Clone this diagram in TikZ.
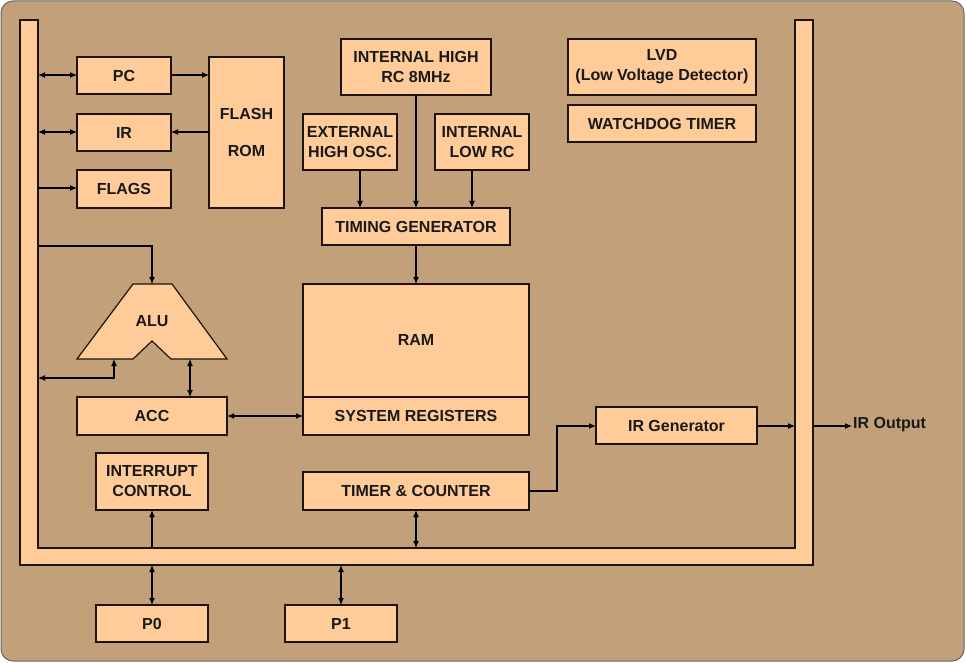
\documentclass[tikz,border=0pt]{standalone}
\usepackage{fontspec}
\setmainfont{Liberation Sans}
\usetikzlibrary{arrows.meta}
\definecolor{bg}{RGB}{194,160,122}
\definecolor{bx}{RGB}{255,204,153}
\begin{document}
\begin{tikzpicture}[x=1pt,y=-1pt,
  box/.style={draw=black!85!brown,line width=1.2pt,fill=bx},
  lbl/.style={font=\fontsize{16}{20}\selectfont\bfseries,align=center,text=black!90},
  ar/.style={line width=1.1pt,-{Latex[length=7pt,width=6pt]}},
  dar/.style={line width=1.1pt,{Latex[length=7pt,width=6pt]}-{Latex[length=7pt,width=6pt]}},
  ln/.style={line width=1.1pt}]
\useasboundingbox (0,0) rectangle (966,663);
\draw[fill=bg,draw=black!60,line width=1pt,rounded corners=12pt] (1,1) rectangle (964,661);
% bus
\draw[box] (20,20) -- (38,20) -- (38,548) -- (795,548) -- (795,20) -- (813,20) -- (813,565) -- (20,565) -- cycle;
% boxes
\newcommand\bx[6]{\draw[box] (#2,#3) rectangle (#4,#5); \node[lbl] (#1) at ({(#2+#4)/2},{(#3+#5)/2}) {#6};}
\bx{pc}{77}{57}{171}{94}{PC}
\bx{ir}{77}{114}{171}{151}{IR}
\bx{flags}{77}{170}{171}{208}{FLAGS}
\bx{flash}{209}{57}{284}{208}{FLASH\\[17pt]ROM}
\bx{ihrc}{341}{39}{491}{95}{INTERNAL HIGH\\RC 8MHz}
\bx{ext}{303}{114}{397}{170}{EXTERNAL\\HIGH OSC.}
\bx{ilrc}{435}{114}{529}{170}{INTERNAL\\LOW RC}
\bx{tg}{322}{208}{510}{245}{TIMING GENERATOR}
\draw[box] (303,284) rectangle (529,397); \node[lbl] (ram) at (416,340) {RAM};
\bx{sr}{303}{397}{529}{435}{SYSTEM REGISTERS}
\bx{lvd}{568}{39}{756}{95}{LVD\\(Low Voltage Detector)}
\bx{wd}{568}{105}{756}{142}{WATCHDOG TIMER}
\bx{acc}{77}{397}{227}{435}{ACC}
\bx{ic}{96}{453}{208}{510}{INTERRUPT\\CONTROL}
\bx{tc}{303}{472}{529}{510}{TIMER \& COUNTER}
\bx{irg}{596}{407}{757}{444}{IR Generator}
\bx{p0}{96}{605}{208}{642}{P0}
\bx{p1}{285}{605}{397}{642}{P1}
\draw[box] (133,284) -- (172,284) -- (227,359) -- (171,359) -- (152,341) -- (133,359) -- (77,359) -- cycle;
\node[lbl] (alu) at (152,321) {ALU};
\node[lbl,anchor=west,inner sep=1pt] (iro) at (852,425) {IR Output};
% connectors
\draw[dar] (38,75) -- (77,75);
\draw[ar] (171,75) -- (209,75);
\draw[ar] (209,132) -- (171,132);
\draw[dar] (38,132) -- (77,132);
\draw[ar] (38,188) -- (77,188);
\draw[ar] (38,246) -- (152,246) -- (152,284);
\draw[dar] (114,359) -- (114,378) -- (38,378);
\draw[dar] (190,359) -- (190,397);
\draw[dar] (227,416) -- (303,416);
\draw[ar] (416,95) -- (416,208);
\draw[ar] (360,170) -- (360,208);
\draw[ar] (472,170) -- (472,208);
\draw[ar] (416,245) -- (416,284);
\draw[ar] (529,491) -- (557,491) -- (557,426) -- (596,426);
\draw[ar] (757,426) -- (795,426);
\draw[ar] (813,426) -- (852,426);
\draw[ar] (152,548) -- (152,510);
\draw[dar] (416,510) -- (416,548);
\draw[dar] (152,565) -- (152,605);
\draw[dar] (341,565) -- (341,605);
\end{tikzpicture}
\end{document}
